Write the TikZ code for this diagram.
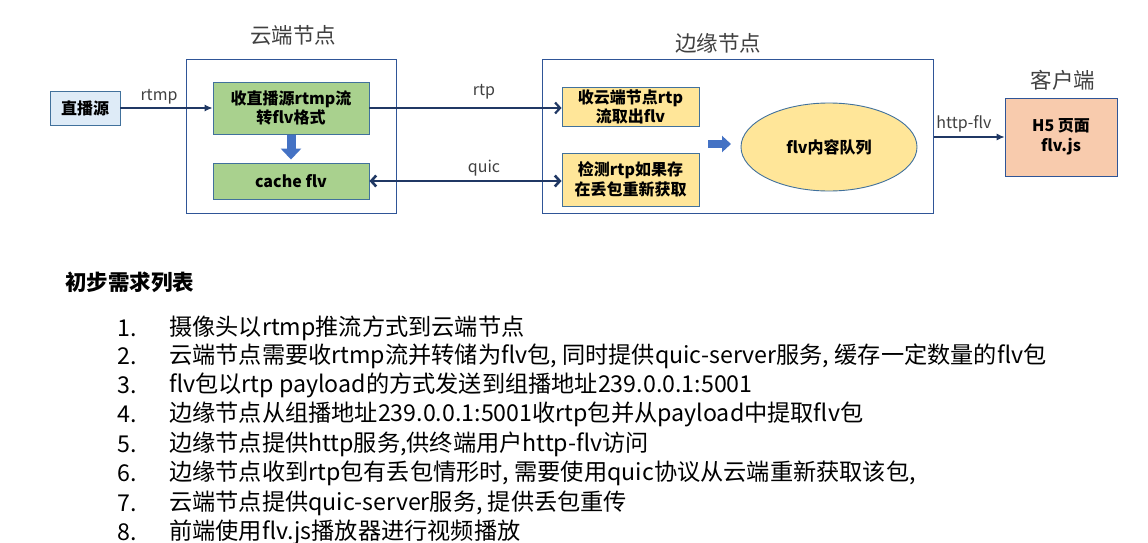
\documentclass[tikz,border=0pt]{standalone}
\usepackage{fontspec}
\setmainfont{Noto Sans CJK SC}
\usetikzlibrary{arrows.meta, positioning, shapes.geometric}

\definecolor{frameblue}{HTML}{2F5597}
\definecolor{lineblue}{HTML}{41719C}
\definecolor{navy}{HTML}{203864}
\definecolor{blockblue}{HTML}{4472C4}
\definecolor{srcfill}{HTML}{DEEBF7}
\definecolor{greenfill}{HTML}{A9D18E}
\definecolor{yellowfill}{HTML}{FFE699}
\definecolor{peachfill}{HTML}{F8CBAD}
\definecolor{labelgray}{HTML}{404040}

\begin{document}
\begin{tikzpicture}[x=1pt, y=-1pt]
      \tikzstyle{element}=[rectangle, draw=lineblue, line width=0.9pt, inner sep=2pt, align=center, font=\fontsize{16}{19.5}\selectfont\bfseries, text=black]
      \tikzstyle{group}=[rectangle, draw=frameblue, line width=1pt, inner sep=0pt]
      \tikzstyle{grouplabel}=[font=\fontsize{21.5}{24}\selectfont, text=labelgray]
      \tikzstyle{linklabel}=[font=\fontsize{16}{18}\selectfont, text=labelgray]
      \tikzstyle{item}=[anchor=west, inner sep=0pt, font=\fontsize{23.2}{26}\selectfont, text=black]
      \useasboundingbox (0,0) rectangle (1148,543);
      % cloud side
      \node[group, minimum width=210pt, minimum height=153pt] (cloud) at (291,136.5) {};
      \node[grouplabel] (cloudlbl) at (293,35) {云端节点};
      \node[element, fill=srcfill, minimum width=70pt, minimum height=34pt] (src) at (85,108) {直播源};
      \node[element, fill=greenfill, minimum width=156pt, minimum height=52pt] (conv) at (291,108) {收直播源rtmp流\\转flv格式};
      \node[element, fill=greenfill, minimum width=156pt, minimum height=36pt] (cache) at (291,181) {cache flv};
      % edge side
      \node[group, minimum width=391pt, minimum height=153pt] (edge) at (737.5,136.5) {};
      \node[grouplabel] (edgelbl) at (718,43) {边缘节点};
      \node[element, fill=yellowfill, minimum width=137pt, minimum height=39pt] (recv) at (630.5,107) {收云端节点rtp\\流取出flv};
      \node[element, fill=yellowfill, minimum width=137pt, minimum height=53pt] (chk) at (630.5,179.5) {检测rtp如果存\\在丢包重新获取};
      \node[ellipse, draw=lineblue, line width=0.9pt, fill=yellowfill, minimum width=176pt, minimum height=88pt, font=\fontsize{16}{19.5}\selectfont\bfseries] (queue) at (829,147) {flv内容队列};
      % client
      \node[element, fill=peachfill, draw=frameblue, minimum width=112pt, minimum height=78pt] (client) at (1061,137) {H5 页面\\flv.js};
      \node[grouplabel] (clientlbl) at (1063,80) {客户端};
      \coordinate (qa) at (708,144);
      \coordinate (qb) at (731,144);
      % connectors
      \draw[navy, line width=1.1pt, -{Latex[length=8pt, width=7pt]}] (src.east) -- (conv.west);
      \node[linklabel] (rtmplbl) at (159,97) {rtmp};
      \draw[navy, line width=2.2pt, -{Straight Barb[length=5pt, width=11pt]}] (conv.east) -- (conv.east -| recv.west);
      \node[linklabel] (rtplbl) at (484,92) {rtp};
      \draw[navy, line width=2.6pt, {Straight Barb[length=5pt, width=11pt]}-{Straight Barb[length=5pt, width=11pt]}] (cache.east) -- (cache.east -| chk.west);
      \node[linklabel] (quiclbl) at (484,168) {quic};
      \draw[navy, line width=1.1pt, -{Latex[length=8pt, width=7pt]}] (edge.east |- client.west) -- (client.west);
      \node[linklabel] (httplbl) at (964,124) {http-flv};
      \draw[blockblue, line width=9pt, -{Triangle[length=11pt, width=20pt]}, shorten <=1pt, shorten >=3pt] (conv.south) -- (cache.north);
      \draw[blockblue, line width=8pt, -{Triangle[length=9pt, width=16pt]}] (qa) -- (qb);
      % requirement list
      \node[anchor=west, inner sep=0pt, font=\fontsize{21.5}{24}\selectfont\bfseries] (title) at (65,282) {初步需求列表};
      \foreach \n/\y/\txt in {1/328/{摄像头以rtmp推流方式到云端节点},
          2/356/{云端节点需要收rtmp流并转储为flv包, 同时提供quic-server服务, 缓存一定数量的flv包},
          3/385/{flv包以rtp payload的方式发送到组播地址239.0.0.1:5001},
          4/414/{边缘节点从组播地址239.0.0.1:5001收rtp包并从payload中提取flv包},
          5/444/{边缘节点提供http服务,供终端用户http-flv访问},
          6/473/{边缘节点收到rtp包有丢包情形时, 需要使用quic协议从云端重新获取该包,},
          7/503/{云端节点提供quic-server服务, 提供丢包重传},
          8/532/{前端使用flv.js播放器进行视频播放}}{
        \node[item] (num\n) at (117,\y) {\n.};
        \node[item] (txt\n) at (169,\y) {\txt};
      }
  \end{tikzpicture}
\end{document}
